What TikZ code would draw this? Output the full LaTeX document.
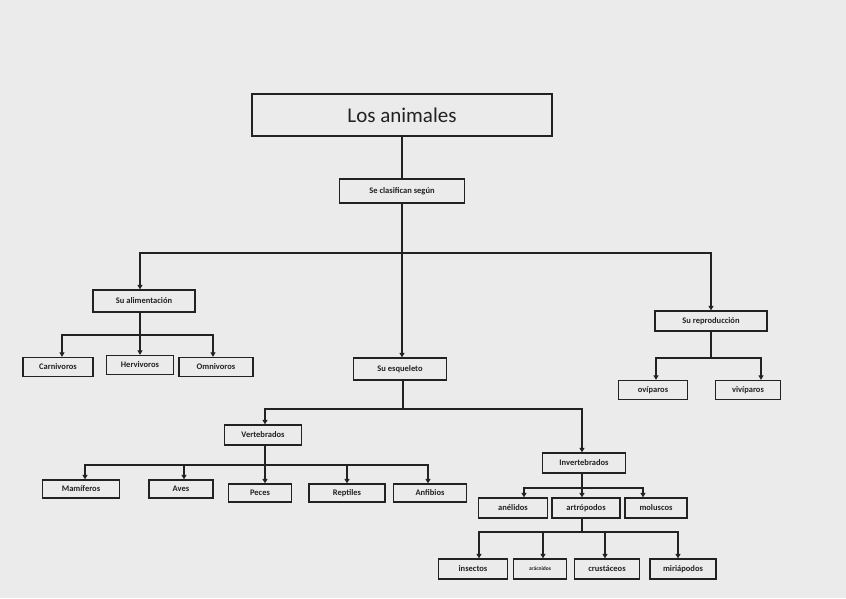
\documentclass[tikz,border=0pt]{standalone}
\usepackage{fontspec}
\setmainfont{Carlito}
\usetikzlibrary{arrows.meta}
\definecolor{bg}{HTML}{EBEBEB}
\definecolor{ink}{HTML}{222222}
\begin{document}
\begin{tikzpicture}[x=1pt,y=-1pt,
  box/.style={draw=ink,line width=1.3pt,fill=bg,inner sep=0pt,font=\bfseries\fontsize{8.5}{9}\selectfont,text=ink},
  ln/.style={draw=ink,line width=1.3pt},
  ar/.style={ln,-{Triangle[width=5pt,length=4.5pt]}}]
\fill[bg] (0,0) rectangle (846,598);
\useasboundingbox (0,0) rectangle (846,598);
\newcommand{\bx}[5]{\node[box,minimum width=#3pt,minimum height=#4pt] (#1) at #2 {#5};}
\node[draw=ink,line width=1.3pt,fill=bg,minimum width=300pt,minimum height=42pt,font=\fontsize{21}{22}\selectfont,text=ink] (root) at (402,115) {Los animales};
\bx{cl}{(402,191)}{125}{24}{Se clasifican según}
\bx{al}{(144,301)}{102}{22}{Su alimentación}
\bx{car}{(58,367)}{70}{19}{Carnivoros}
\bx{her}{(140,365)}{67}{19}{Hervivoros}
\bx{omn}{(216,367)}{74}{19}{Omnivoros}
\bx{esq}{(400,369)}{93}{22}{Su esqueleto}
\bx{rep}{(711,321)}{112}{20}{Su reproducción}
\bx{ovi}{(653,390)}{69}{19}{ovíparos}
\bx{viv}{(748,390)}{65}{19}{vivíparos}
\bx{ver}{(263,435)}{77}{20}{Vertebrados}
\bx{mam}{(81,489)}{77}{18}{Mamíferos}
\bx{ave}{(181,489)}{64}{18}{Aves}
\bx{pec}{(260,493)}{63}{18}{Peces}
\bx{rpt}{(347,493)}{76}{18}{Reptiles}
\bx{anf}{(430,493)}{73}{18}{Anfibios}
\bx{inv}{(584,463)}{83}{20}{Invertebrados}
\bx{ane}{(513,508)}{69}{20}{anélidos}
\bx{art}{(586,508)}{68}{20}{artrópodos}
\bx{mol}{(656,508)}{62}{20}{moluscos}
\bx{ins}{(473,569)}{69}{20}{insectos}
\node[box,minimum width=53pt,minimum height=20pt,font=\bfseries\fontsize{5.5}{6}\selectfont] (ara) at (540,569) {arácnidos};
\bx{cru}{(607,569)}{65}{20}{crustáceos}
\bx{mir}{(683,569)}{66}{20}{miriápodos}
% root
\draw[ln] (root.south) -- (cl.north);
\coordinate (j0) at (402,253);
\draw[ln] (cl.south) -- (j0);
\draw[ar] (j0) -| (al.north -| 140,0);
\draw[ar] (j0) -| (rep.north);
\draw[ar] (j0) -- (esq.north -| j0);
% alimentacion
\coordinate (j1) at (140,335);
\draw[ln] (al.south -| j1) -- (j1);
\draw[ar] (j1) -| (car.north -| 62,0);
\draw[ar] (j1) -- (her.north -| j1);
\draw[ar] (j1) -| (omn.north -| 213,0);
% reproduccion
\coordinate (j2) at (711,358);
\draw[ln] (rep.south) -- (j2);
\draw[ar] (j2) -| (ovi.north -| 656,0);
\draw[ar] (j2) -| (viv.north -| 761,0);
% esqueleto
\coordinate (j3) at (403,409);
\draw[ln] (esq.south -| j3) -- (j3);
\draw[ar] (j3) -| (ver.north -| 265,0);
\draw[ar] (j3) -| (inv.north -| 582,0);
% vertebrados
\coordinate (j4) at (265,465);
\draw[ln] (ver.south -| j4) -- (j4);
\draw[ar] (j4) -| (mam.north -| 85,0);
\draw[ar] (j4) -| (ave.north -| 184,0);
\draw[ar] (j4) -- (pec.north -| j4);
\draw[ar] (j4) -| (rpt.north -| 347,0);
\draw[ar] (j4) -| (anf.north -| 428,0);
% invertebrados
\coordinate (j5) at (582,488);
\draw[ln] (inv.south -| j5) -- (j5);
\draw[ar] (j5) -| (ane.north -| 524,0);
\draw[ar] (j5) -- (art.north -| j5);
\draw[ar] (j5) -| (mol.north -| 643,0);
% artropodos
\coordinate (j6) at (582,532);
\draw[ln] (art.south -| j6) -- (j6);
\draw[ar] (j6) -| (ins.north -| 479,0);
\draw[ar] (j6) -| (ara.north -| 543,0);
\draw[ar] (j6) -| (cru.north -| 605,0);
\draw[ar] (j6) -| (mir.north -| 678,0);
\end{tikzpicture}
\end{document}
